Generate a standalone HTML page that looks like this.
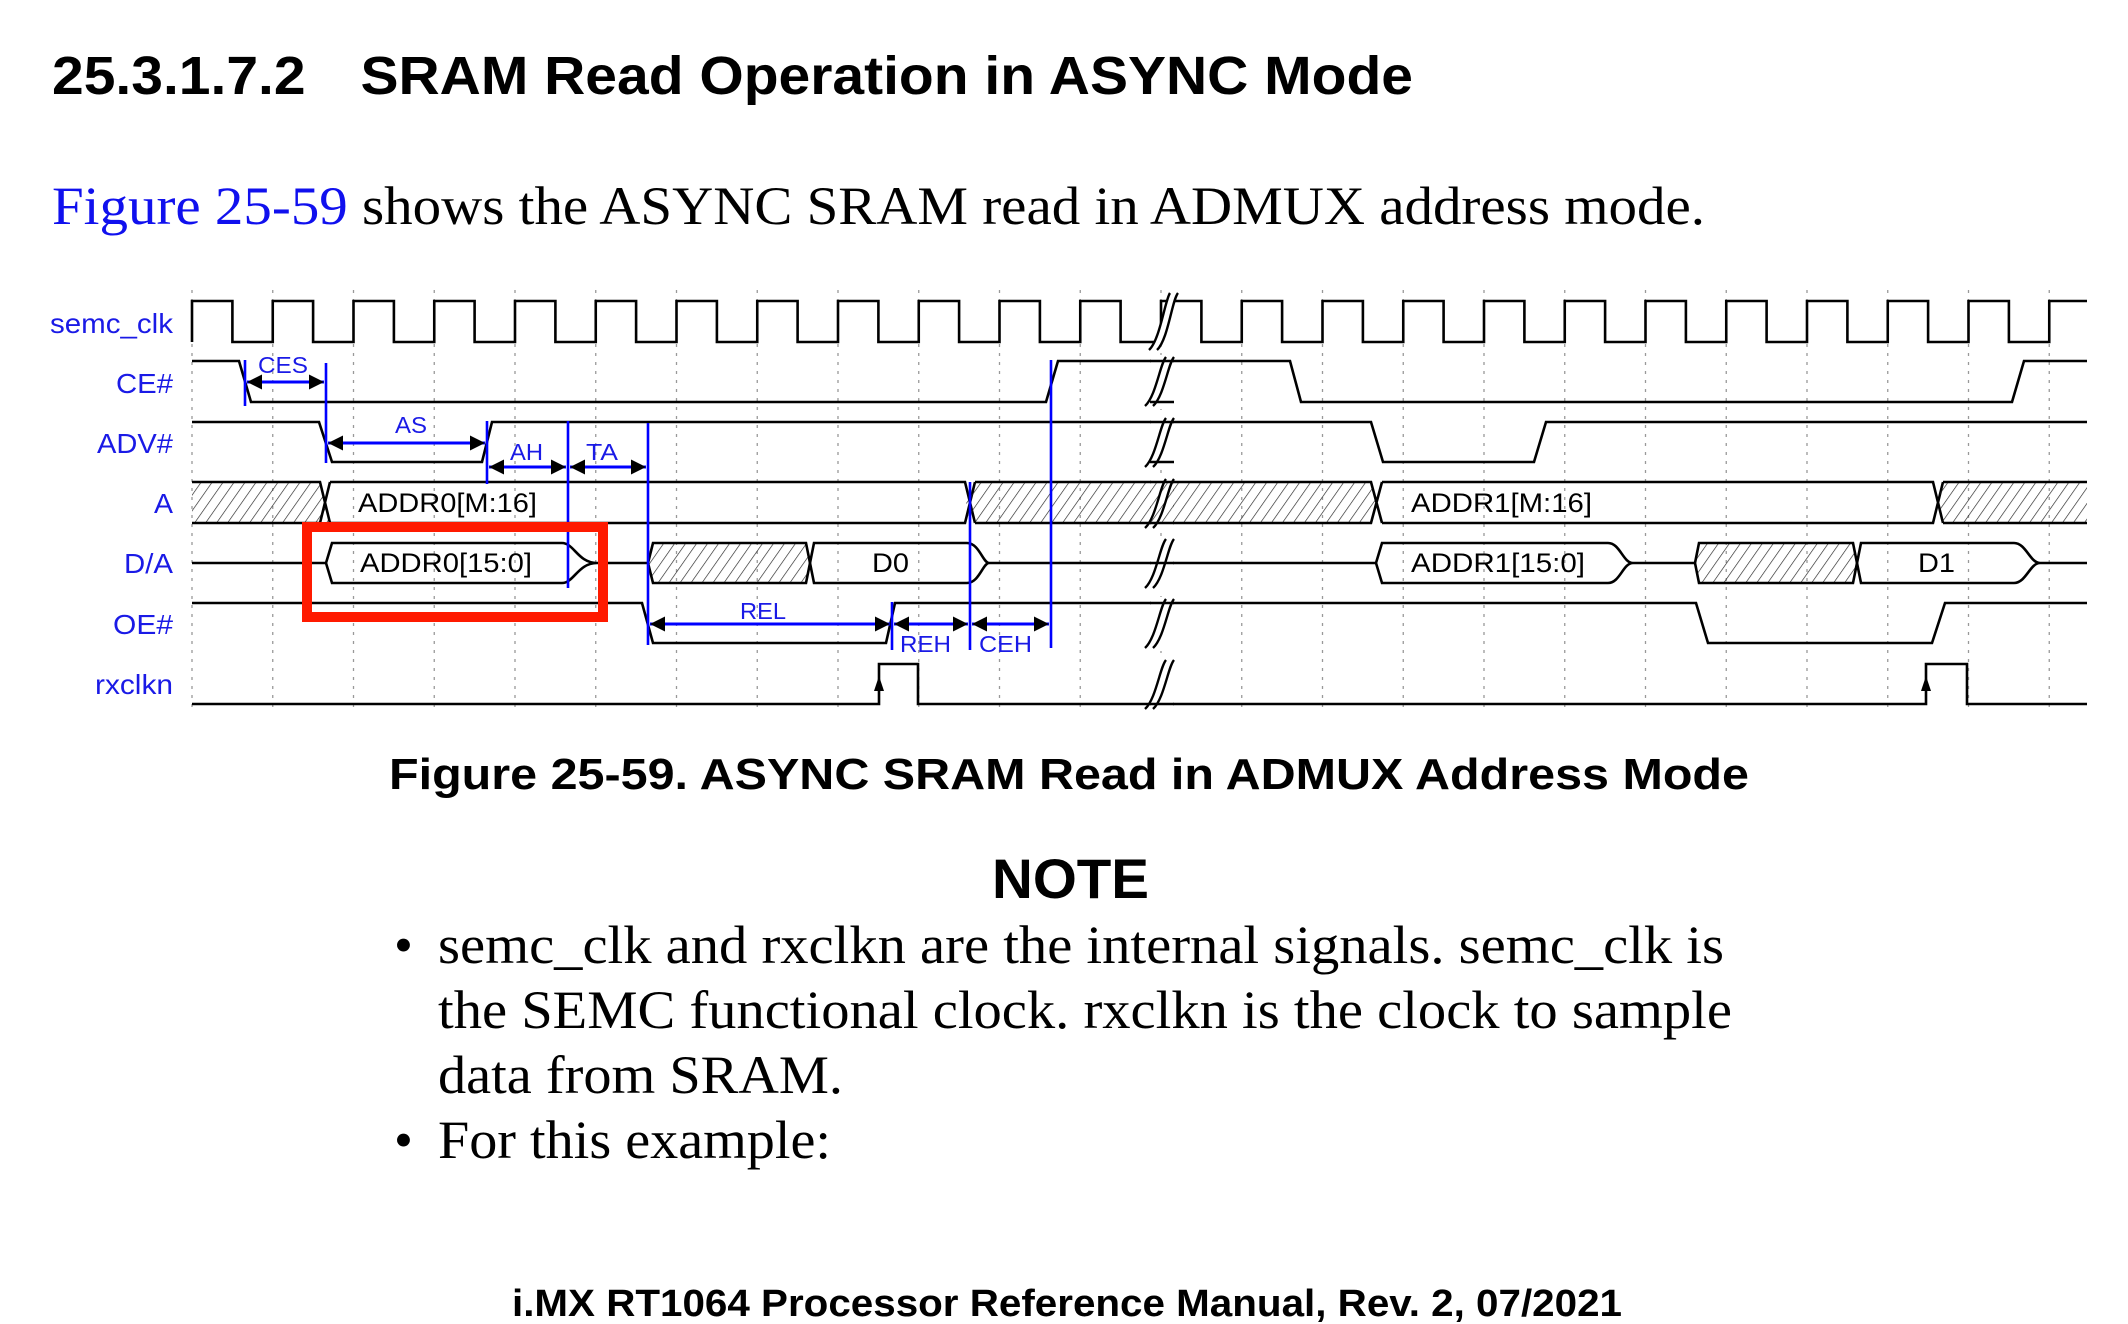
<!DOCTYPE html>
<html><head><meta charset="utf-8"><style>
html,body{margin:0;padding:0;background:#fff;}
svg{display:block;}
</style></head><body>
<svg width="2128" height="1324" viewBox="0 0 2128 1324" xmlns="http://www.w3.org/2000/svg">
<defs>
<pattern id="h" patternUnits="userSpaceOnUse" width="9" height="9" patternTransform="rotate(35)">
<line x1="0" y1="0" x2="0" y2="9" stroke="#222" stroke-width="1.3"/>
</pattern>
<marker id="ah" viewBox="0 0 10 10" refX="10" refY="5" markerWidth="6" markerHeight="5" markerUnits="strokeWidth" orient="auto-start-reverse">
<path d="M0,0 L10,5 L0,10 z" fill="#000"/>
</marker>
</defs>
<rect width="2128" height="1324" fill="#fff"/>

<!-- texts -->
<text x="52" y="94" font-family="Liberation Sans, sans-serif" font-weight="bold" font-size="54" textLength="1361" lengthAdjust="spacingAndGlyphs" fill="#000">25.3.1.7.2<tspan dx="52">SRAM Read Operation in ASYNC Mode</tspan></text>
<text x="52" y="224" font-family="Liberation Serif, serif" font-size="54" textLength="1653" lengthAdjust="spacingAndGlyphs" fill="#000"><tspan fill="#1010ee">Figure 25-59</tspan> shows the ASYNC SRAM read in ADMUX address mode.</text>

<!-- grid -->
<g stroke="#999" stroke-width="1.3" stroke-dasharray="3,6">
<line x1="192" y1="290" x2="192" y2="712"/><line x1="272.75" y1="290" x2="272.75" y2="712"/><line x1="353.5" y1="290" x2="353.5" y2="712"/><line x1="434.25" y1="290" x2="434.25" y2="712"/><line x1="515" y1="290" x2="515" y2="712"/><line x1="595.75" y1="290" x2="595.75" y2="712"/><line x1="676.5" y1="290" x2="676.5" y2="712"/><line x1="757.25" y1="290" x2="757.25" y2="712"/><line x1="838" y1="290" x2="838" y2="712"/><line x1="918.75" y1="290" x2="918.75" y2="712"/><line x1="999.5" y1="290" x2="999.5" y2="712"/><line x1="1080.25" y1="290" x2="1080.25" y2="712"/><line x1="1161" y1="290" x2="1161" y2="712"/><line x1="1241.75" y1="290" x2="1241.75" y2="712"/><line x1="1322.5" y1="290" x2="1322.5" y2="712"/><line x1="1403.25" y1="290" x2="1403.25" y2="712"/><line x1="1484" y1="290" x2="1484" y2="712"/><line x1="1564.75" y1="290" x2="1564.75" y2="712"/><line x1="1645.5" y1="290" x2="1645.5" y2="712"/><line x1="1726.25" y1="290" x2="1726.25" y2="712"/><line x1="1807" y1="290" x2="1807" y2="712"/><line x1="1887.75" y1="290" x2="1887.75" y2="712"/><line x1="1968.5" y1="290" x2="1968.5" y2="712"/><line x1="2049.25" y1="290" x2="2049.25" y2="712"/>
</g>

<!-- labels -->
<g font-family="Liberation Sans, sans-serif" font-size="28" fill="#1a1ae6" text-anchor="end">
<text x="173" y="333" textLength="123" lengthAdjust="spacingAndGlyphs">semc_clk</text>
<text x="173" y="393" textLength="57" lengthAdjust="spacingAndGlyphs">CE#</text>
<text x="173" y="453" textLength="76" lengthAdjust="spacingAndGlyphs">ADV#</text>
<text x="173" y="513" textLength="19" lengthAdjust="spacingAndGlyphs">A</text>
<text x="173" y="573" textLength="49" lengthAdjust="spacingAndGlyphs">D/A</text>
<text x="173" y="634" textLength="60" lengthAdjust="spacingAndGlyphs">OE#</text>
<text x="173" y="694" textLength="78" lengthAdjust="spacingAndGlyphs">rxclkn</text>
</g>

<g fill="none" stroke="#000" stroke-width="2.6" stroke-linejoin="miter">
<path d="M192,342 V301 H232.4 V342 H272.75 V301 H313.1 V342 H353.5 V301 H393.9 V342 H434.25 V301 H474.6 V342 H515 V301 H555.4 V342 H595.75 V301 H636.1 V342 H676.5 V301 H716.9 V342 H757.25 V301 H797.6 V342 H838 V301 H878.4 V342 H918.75 V301 H959.1 V342 H999.5 V301 H1039.9 V342 H1080.25 V301 H1120.6 V342 H1161 V301 H1201.4 V342 H1241.75 V301 H1282.1 V342 H1322.5 V301 H1362.9 V342 H1403.25 V301 H1443.6 V342 H1484 V301 H1524.4 V342 H1564.75 V301 H1605.1 V342 H1645.5 V301 H1685.9 V342 H1726.25 V301 H1766.6 V342 H1807 V301 H1847.4 V342 H1887.75 V301 H1928.1 V342 H1968.5 V301 H2008.9 V342 H2049.25 V301 H2087"/>
<path d="M192,361 H239 L251,402 H1046 L1058,361 H1290 L1301,402 H2012 L2024,361 H2087"/>
<path d="M192,422 H319 L332,462 H482 L492,422 H1371 L1383,462 H1534 L1546,422 H2087"/>
<path d="M192,603 H642 L653,643 H886 L895,603 H1696 L1708,643 H1932 L1945,603 H2087"/>
<path d="M192,704 H879 V664 H918 V704 H1926 V664 H1967 V704 H2087"/>
</g>

<!-- A bus -->
<g stroke="#000" stroke-width="2.6">
<path d="M192,482 H321 L330,523 H192 Z" fill="url(#h)" stroke="none"/>
<path d="M192,482 H320 L330,523 M192,523 H320 L330,482" fill="none"/>
<path d="M330,482 H965 L975,523 M330,523 H965 L975,482" fill="none"/>
<path d="M966,502 L970,482 H1371 L1376,502 L1371,523 H970 Z" fill="url(#h)" stroke="none"/>
<path d="M975,482 H1371 L1382,523 M975,523 H1371 L1382,482" fill="none"/>
<path d="M1382,482 H1933 L1943,523 M1382,523 H1933 L1943,482" fill="none"/>
<path d="M1938,502 L1943,482 H2087 V523 H1943 Z" fill="url(#h)" stroke="none"/>
<path d="M1943,482 H2087 M1943,523 H2087" fill="none"/>
</g>

<!-- D/A bus -->
<g stroke="#000" stroke-width="2.6" fill="none">
<path d="M192,563 H326 L332,543 H562 C574,543 578,563 597,563 C578,563 574,583 562,583 H332 L326,563"/>
<path d="M597,563 H648"/>
<path d="M648,563 L653,543 H806 L810,563 L806,583 H653 Z" fill="url(#h)"/>
<path d="M810,563 L814,543 H967 C979,543 983,563 989,563 C983,563 979,583 967,583 H814 Z"/>
<path d="M989,563 H1376 L1382,543 H1608 C1620,543 1623,563 1633,563 C1623,563 1620,583 1608,583 H1382 L1376,563"/>
<path d="M1633,563 H1695"/>
<path d="M1695,563 L1699,543 H1853 L1857,563 L1853,583 H1699 Z" fill="url(#h)"/>
<path d="M1857,563 L1861,543 H2014 C2026,543 2030,563 2040,563 C2030,563 2026,583 2014,583 H1861 Z"/>
<path d="M2040,563 H2087"/>
</g>

<!-- bus labels -->
<g font-family="Liberation Sans, sans-serif" font-size="27" fill="#000">
<text x="358" y="512" textLength="179" lengthAdjust="spacingAndGlyphs">ADDR0[M:16]</text>
<text x="360" y="572" textLength="172" lengthAdjust="spacingAndGlyphs">ADDR0[15:0]</text>
<text x="872" y="572" textLength="37" lengthAdjust="spacingAndGlyphs">D0</text>
<text x="1411" y="512" textLength="181" lengthAdjust="spacingAndGlyphs">ADDR1[M:16]</text>
<text x="1411" y="572" textLength="174" lengthAdjust="spacingAndGlyphs">ADDR1[15:0]</text>
<text x="1918" y="572" textLength="37" lengthAdjust="spacingAndGlyphs">D1</text>
</g>

<path d="M879,676 L874,691 L884,691 Z" fill="#000"/>
<path d="M1926,676 L1921,691 L1931,691 Z" fill="#000"/>

<!-- breaks -->
<g>
<path d="M1149,350 C1160,340 1165,300 1170,293 L1178,293 C1172,300 1168,340 1157,350 Z" fill="#fff"/>
<path d="M1149,350 C1160,340 1165,300 1170,293 M1157,350 C1168,340 1172,300 1178,293" fill="none" stroke="#000" stroke-width="2.4"/>
</g>
<g fill="#fff" stroke="none">
<rect x="1151" y="355" width="22" height="54"/>
<rect x="1151" y="415" width="22" height="54"/>
<rect x="1151" y="476" width="22" height="54"/>
<rect x="1151" y="536" width="22" height="54"/>
<rect x="1151" y="597" width="22" height="54"/>
<rect x="1151" y="657" width="22" height="54"/>
</g>
<g fill="none" stroke="#000" stroke-width="2.6">
<path d="M1150,361 H1174 M1150,402 H1174 M1150,422 H1174 M1150,462 H1174 M1150,563 H1174 M1150,603 H1174 M1150,704 H1174"/>
<path d="M1150,482 H1174 M1150,523 H1174"/>
</g>
<rect x="1150" y="483" width="24" height="39" fill="url(#h)"/>
<g fill="none" stroke="#000" stroke-width="2.4">
<path d="M1145,406 C1156,396 1160,364 1166,357 M1153,406 C1164,396 1168,364 1174,357"/>
<path d="M1145,467 C1156,457 1160,425 1166,418 M1153,467 C1164,457 1168,425 1174,418"/>
<path d="M1145,528 C1156,518 1160,486 1166,479 M1153,528 C1164,518 1168,486 1174,479"/>
<path d="M1145,588 C1156,578 1160,546 1166,539 M1153,588 C1164,578 1168,546 1174,539"/>
<path d="M1145,648 C1156,638 1160,606 1166,599 M1153,648 C1164,638 1168,606 1174,599"/>
<path d="M1145,709 C1156,699 1160,667 1166,660 M1153,709 C1164,699 1168,667 1174,660"/>
</g>

<!-- blue timing -->
<g stroke="#0000ff" stroke-width="2.6" fill="none">
<line x1="245" y1="360" x2="245" y2="406"/>
<line x1="326" y1="363" x2="326" y2="463"/>
<line x1="487" y1="421" x2="487" y2="484"/>
<line x1="568" y1="421" x2="568" y2="588"/>
<line x1="648" y1="423" x2="648" y2="645"/>
<line x1="892" y1="602" x2="892" y2="650"/>
<line x1="970" y1="482" x2="970" y2="650"/>
<line x1="1051" y1="360" x2="1051" y2="648"/>
</g>
<g stroke="#0000ff" stroke-width="3" fill="none" marker-start="url(#ah)" marker-end="url(#ah)">
<line x1="247" y1="382" x2="324" y2="382"/>
<line x1="328" y1="443" x2="485" y2="443"/>
<line x1="489" y1="467" x2="566" y2="467"/>
<line x1="570" y1="467" x2="646" y2="467"/>
<line x1="650" y1="624" x2="890" y2="624"/>
<line x1="894" y1="624" x2="968" y2="624"/>
<line x1="972" y1="624" x2="1049" y2="624"/>
</g>
<g font-family="Liberation Sans, sans-serif" font-size="23" fill="#1a1ae6">
<text x="258" y="373" textLength="50" lengthAdjust="spacingAndGlyphs">CES</text>
<text x="395" y="433" textLength="32" lengthAdjust="spacingAndGlyphs">AS</text>
<text x="510" y="460" textLength="33" lengthAdjust="spacingAndGlyphs">AH</text>
<text x="586" y="460" textLength="32" lengthAdjust="spacingAndGlyphs">TA</text>
<text x="740" y="619" textLength="46" lengthAdjust="spacingAndGlyphs">REL</text>
<text x="900" y="652" textLength="51" lengthAdjust="spacingAndGlyphs">REH</text>
<text x="979" y="652" textLength="53" lengthAdjust="spacingAndGlyphs">CEH</text>
</g>

<rect x="307" y="527" width="296" height="90" fill="none" stroke="#ff1a00" stroke-width="10"/>

<text x="389" y="789" font-family="Liberation Sans, sans-serif" font-weight="bold" font-size="44" textLength="1360" lengthAdjust="spacingAndGlyphs" fill="#000">Figure 25-59. ASYNC SRAM Read in ADMUX Address Mode</text>
<text x="992" y="898" font-family="Liberation Sans, sans-serif" font-weight="bold" font-size="56" textLength="157" lengthAdjust="spacingAndGlyphs" fill="#000">NOTE</text>
<g font-family="Liberation Serif, serif" font-size="54" fill="#000">
<text x="394" y="963">•</text>
<text x="438" y="963" textLength="1286" lengthAdjust="spacingAndGlyphs">semc_clk and rxclkn are the internal signals. semc_clk is</text>
<text x="438" y="1028" textLength="1294" lengthAdjust="spacingAndGlyphs">the SEMC functional clock. rxclkn is the clock to sample</text>
<text x="438" y="1093" textLength="405" lengthAdjust="spacingAndGlyphs">data from SRAM.</text>
<text x="394" y="1158">•</text>
<text x="438" y="1158" textLength="393" lengthAdjust="spacingAndGlyphs">For this example:</text>
</g>
<text x="512" y="1316" font-family="Liberation Sans, sans-serif" font-weight="bold" font-size="38" textLength="1110" lengthAdjust="spacingAndGlyphs" fill="#000">i.MX RT1064 Processor Reference Manual, Rev. 2, 07/2021</text>
</svg>
</body></html>
